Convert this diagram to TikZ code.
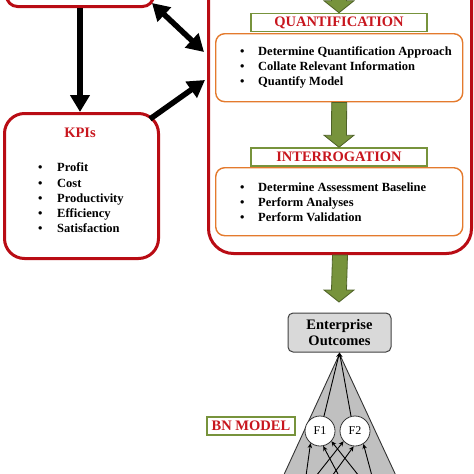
\documentclass[tikz,border=0pt]{standalone}
\usepackage{fontspec}
\setmainfont{Liberation Serif}
\usetikzlibrary{arrows.meta,calc}
\definecolor{kred}{RGB}{185,12,20}
\definecolor{tred}{RGB}{200,22,30}
\definecolor{olive}{RGB}{119,147,60}
\definecolor{olivedark}{RGB}{79,98,40}
\definecolor{orng}{RGB}{228,122,45}
\definecolor{eogray}{RGB}{217,217,217}
\definecolor{trigray}{RGB}{192,192,192}
\newcommand\blockarrow[2]{\draw[greenarrow] ($(#1)+(-7.5,0)$) -- ($(#2)+(-7.5,-12)$) -- ($(#2)+(-15,-12)$) -- (#2) -- ($(#2)+(15,-12)$) -- ($(#2)+(7.5,-12)$) -- ($(#1)+(7.5,0)$) -- cycle;}
\begin{document}
\begin{tikzpicture}[x=1pt,y=-1pt,
  redbox/.style={draw=kred,line width=3pt,inner sep=0pt},
  orangebox/.style={draw=orng,line width=1.4pt,rounded corners=9pt,inner sep=0pt,fill=white},
  titlebox/.style={draw=olive,line width=1.5pt,fill=white,inner sep=0pt,minimum height=18pt,
     text=tred,font=\fontsize{14.5}{16}\selectfont\bfseries},
  redtitle/.style={text=tred,font=\fontsize{14.5}{16}\selectfont\bfseries,inner sep=0pt},
  listtext/.style={align=left,inner sep=0pt,font=\fontsize{12.5}{15.2}\selectfont\bfseries},
  greenarrow/.style={fill=olive,draw=olivedark,line width=0.8pt,line join=miter},
  bigarrow/.style={draw=black,line width=5.5pt,-{Triangle[length=17pt,width=19pt]}},
  dblarrow/.style={draw=black,line width=5.5pt,{Triangle[length=17pt,width=19pt]}-{Triangle[length=17pt,width=19pt]}},
  eobox/.style={draw=black!75,line width=1pt,fill=eogray,rounded corners=5pt,align=center,
     minimum width=103pt,minimum height=39pt,inner sep=0pt,font=\fontsize{14.5}{16}\selectfont\bfseries},
  fnode/.style={circle,draw=black!80,line width=0.8pt,fill=white,minimum size=30pt,inner sep=0pt,
     font=\fontsize{12}{13}\selectfont},
  thinarrow/.style={draw=black,line width=0.9pt,-{Stealth[length=5pt,width=4.5pt]}}
]
\useasboundingbox (0,0) rectangle (474,474);
\clip (0,0) rectangle (474,474);

% top-left box (cut off)
\node[redbox,rounded corners=11pt,anchor=south west,minimum width=147pt,minimum height=60pt] (topbox) at (5,8) {};

% KPIs box
\node[redbox,rounded corners=20pt,anchor=north west,minimum width=154pt,minimum height=145pt] (kpi) at (3,112) {};
\node[redtitle] (kpititle) at (80,133) {KPIs};
\node[listtext,anchor=west] (kpilist) at (38,198) {%
\makebox[19pt][l]{\textbullet}Profit\\
\makebox[19pt][l]{\textbullet}Cost\\
\makebox[19pt][l]{\textbullet}Productivity\\
\makebox[19pt][l]{\textbullet}Efficiency\\
\makebox[19pt][l]{\textbullet}Satisfaction};

% container
\node[redbox,rounded corners=25pt,anchor=south west,minimum width=263pt,minimum height=300pt] (cont) at (207,255) {};

% quantification
\node[orangebox,anchor=north west,minimum width=247pt,minimum height=68pt] (qbody) at (215,33) {};
\node[titlebox,minimum width=176pt] (qtitle) at (339,22.5) {QUANTIFICATION};
\node[listtext,anchor=west] (qlist) at (240,67.5) {%
\makebox[18pt][l]{\textbullet}Determine Quantification Approach\\
\makebox[18pt][l]{\textbullet}Collate Relevant Information\\
\makebox[18pt][l]{\textbullet}Quantify Model};

% interrogation
\node[orangebox,anchor=north west,minimum width=247pt,minimum height=68pt] (ibody) at (215,167) {};
\node[titlebox,minimum width=176pt] (ititle) at (339,157) {INTERROGATION};
\node[listtext,anchor=west] (ilist) at (240,202) {%
\makebox[18pt][l]{\textbullet}Determine Assessment Baseline\\
\makebox[18pt][l]{\textbullet}Perform Analyses\\
\makebox[18pt][l]{\textbullet}Perform Validation};

% green block arrows
\coordinate (gtop) at (339,-20);
\blockarrow{gtop}{qtitle.north}
\blockarrow{qbody.south}{ititle.north}
\coordinate (eotip) at (339,302);
\blockarrow{cont.south}{eotip}

% black arrows
\draw[bigarrow] (topbox.south) -- (topbox.south |- kpi.north);
\coordinate (d1) at (152,3);
\coordinate (d2) at (204,52);
\draw[dblarrow] (d1) -- (d2);
\coordinate (k1) at (150,119);
\coordinate (k2) at (205,80);
\draw[bigarrow] (k1) -- (k2);

% BN model
\coordinate (apex) at (339.5,354);
\coordinate (tl) at (281.5,480);
\coordinate (tr) at (398,480);
\draw[fill=trigray,draw=black!80,line width=0.9pt] (apex) -- (tl) -- (tr) -- cycle;
\node[eobox] (eo) at (339.5,332.5) {Enterprise\\Outcomes};
\node[titlebox,minimum width=88pt] (bn) at (251,426) {BN MODEL};
\node[fnode] (f1) at (320,431) {F1};
\node[fnode] (f2) at (355,431) {F2};
\draw[thinarrow] (f1.75) -- (eo.south);
\draw[thinarrow] (f2.105) -- (eo.south);
\coordinate (b1) at (306,476);
\coordinate (b2) at (316,476);
\coordinate (b3) at (332,476);
\coordinate (b4) at (339,476);
\coordinate (b5) at (359,476);
\coordinate (b6) at (372,476);
\draw[thinarrow] (b1) -- (f1.232);
\draw[thinarrow] (b2) -- (f2.222);
\draw[thinarrow] (b3) -- (f2.265);
\draw[thinarrow] (b4) -- (f1.282);
\draw[thinarrow] (b5) -- (f1.318);
\draw[thinarrow] (b6) -- (f2.303);
\end{tikzpicture}
\end{document}
